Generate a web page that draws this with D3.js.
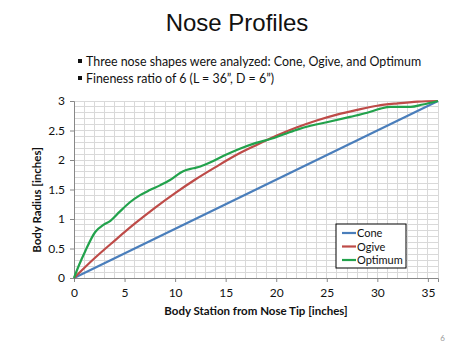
<!DOCTYPE html>
<html>
<head>
<meta charset="utf-8">
<script src="https://cdn.jsdelivr.net/npm/d3@7"></script>
<style>
  html, body { margin: 0; padding: 0; background: #fff; }
  svg { display: block; }
</style>
</head>
<body>
<div id="chart"></div>
<script>
// ── data ──
const seriesNames = ['Cone', 'Ogive', 'Optimum'];
const seriesColors = ['#4a7ebb', '#be4b48', '#22a24c'];

const coneX = [0, 36];
const coneY = [0, 3];

const ogiveX = [0, 2, 4, 6, 8, 10, 12, 14, 16, 18, 20, 22, 24, 26, 28, 30, 32, 34, 36];
const ogiveY = [0, 0.33, 0.63, 0.92, 1.19, 1.44, 1.67, 1.88, 2.08, 2.25, 2.41, 2.55, 2.67, 2.77, 2.85, 2.92, 2.96, 2.99, 3.0];

const optX = [0, 0.5, 1.1, 2.1, 2.9, 3.6, 4.5, 5.5, 6.5, 7.5, 8.5, 9.5, 10.8, 11.8, 12.5, 13.5, 14.8, 16.4, 18, 19.5, 20.5, 22, 23.4, 25, 27.3, 29, 30.3, 31.3, 33.3, 34.5, 36];
const optY = [0, 0.22, 0.45, 0.78, 0.9, 0.97, 1.12, 1.28, 1.4, 1.49, 1.57, 1.66, 1.81, 1.86, 1.89, 1.96, 2.07, 2.19, 2.29, 2.36, 2.42, 2.51, 2.58, 2.64, 2.73, 2.8, 2.87, 2.9, 2.9, 2.94, 3.0];

const xTicks = [0, 5, 10, 15, 20, 25, 30, 35];
const yTicks = [0, 0.5, 1, 1.5, 2, 2.5, 3];

const bullets = [
  'Three nose shapes were analyzed: Cone, Ogive, and Optimum',
  'Fineness ratio of 6 (L = 36\u201d, D = 6\u201d)'
];

// ── layout ──
const W = 474, H = 355;
const plot = { left: 74, right: 438, top: 101, bottom: 278 };
const bodyFont = 'Lato, Open Sans, sans-serif';

const svg = d3.select('#chart').append('svg')
  .attr('width', W)
  .attr('height', H);

const x = d3.scaleLinear().domain([0, 36]).range([plot.left, plot.right]);
const y = d3.scaleLinear().domain([0, 3]).range([plot.bottom, plot.top]);

// title
svg.append('text')
  .attr('x', 237).attr('y', 31)
  .attr('text-anchor', 'middle')
  .attr('font-family', 'Liberation Sans, Arial, sans-serif')
  .attr('font-size', 24)
  .attr('fill', '#111')
  .text('Nose Profiles');

// bullets
const bl = svg.append('g').attr('font-family', bodyFont).attr('font-size', 12.4).attr('fill', '#111');
bullets.forEach((t, i) => {
  const by = 66 + i * 17;
  bl.append('rect').attr('x', 78).attr('y', by - 7).attr('width', 4).attr('height', 4).attr('fill', '#111');
  bl.append('text').attr('x', 86).attr('y', by).text(t);
});

// grid
const grid = svg.append('g').attr('stroke', '#d9d9d9').attr('stroke-width', 1).attr('shape-rendering', 'crispEdges');
grid.selectAll('.gv')
  .data(d3.range(1, 37))
  .enter().append('line')
  .attr('x1', d => x(d)).attr('x2', d => x(d))
  .attr('y1', plot.top).attr('y2', plot.bottom);
grid.selectAll('.gh')
  .data(d3.range(1, 31).map(d => d / 10))
  .enter().append('line')
  .attr('x1', plot.left).attr('x2', plot.right)
  .attr('y1', d => y(d)).attr('y2', d => y(d));

// axes
const xAxis = svg.append('g')
  .attr('transform', `translate(0,${plot.bottom})`)
  .call(d3.axisBottom(x).tickValues(xTicks).tickSize(4).tickPadding(6));
const yAxis = svg.append('g')
  .attr('transform', `translate(${plot.left},0)`)
  .call(d3.axisLeft(y).tickValues(yTicks).tickFormat(d3.format('')).tickSize(4).tickPadding(5));

[xAxis, yAxis].forEach(a => {
  a.select('.domain').attr('stroke', '#888');
  a.selectAll('.tick line').attr('stroke', '#888');
  a.selectAll('.tick text')
    .attr('font-family', bodyFont)
    .attr('font-size', 12)
    .attr('fill', '#111');
});

// axis titles
svg.append('text')
  .attr('x', 256).attr('y', 315)
  .attr('text-anchor', 'middle')
  .attr('font-family', bodyFont)
  .attr('font-weight', 'bold')
  .attr('font-size', 11.5)
  .attr('fill', '#111')
  .text('Body Station from Nose Tip [inches]');

svg.append('text')
  .attr('transform', 'translate(41,200) rotate(-90)')
  .attr('text-anchor', 'middle')
  .attr('font-family', bodyFont)
  .attr('font-weight', 'bold')
  .attr('font-size', 11.5)
  .attr('fill', '#111')
  .text('Body Radius [inches]');

// lines
const series = [
  { xs: coneX, ys: coneY, curve: d3.curveLinear },
  { xs: ogiveX, ys: ogiveY, curve: d3.curveMonotoneX },
  { xs: optX, ys: optY, curve: d3.curveMonotoneX }
];
series.forEach((s, i) => {
  const pts = s.xs.map((v, j) => [v, s.ys[j]]);
  svg.append('path')
    .datum(pts)
    .attr('fill', 'none')
    .attr('stroke', seriesColors[i])
    .attr('stroke-width', 2.2)
    .attr('stroke-linejoin', 'round')
    .attr('d', d3.line().x(d => x(d[0])).y(d => y(d[1])).curve(s.curve));
});

// legend
const lg = svg.append('g').attr('transform', 'translate(336,224)');
lg.append('rect')
  .attr('width', 70).attr('height', 44)
  .attr('fill', '#fff').attr('stroke', '#000').attr('stroke-width', 1);
seriesNames.forEach((n, i) => {
  const ly = 9 + i * 13.5;
  lg.append('line')
    .attr('x1', 6).attr('x2', 20).attr('y1', ly).attr('y2', ly)
    .attr('stroke', seriesColors[i]).attr('stroke-width', 2.2);
  lg.append('text')
    .attr('x', 21).attr('y', ly + 4)
    .attr('font-family', bodyFont)
    .attr('font-size', 11)
    .attr('fill', '#111')
    .text(n);
});

// page number
svg.append('text')
  .attr('x', 445).attr('y', 341)
  .attr('text-anchor', 'end')
  .attr('font-family', bodyFont)
  .attr('font-size', 8)
  .attr('fill', '#999')
  .text('6');
</script>
</body>
</html>
